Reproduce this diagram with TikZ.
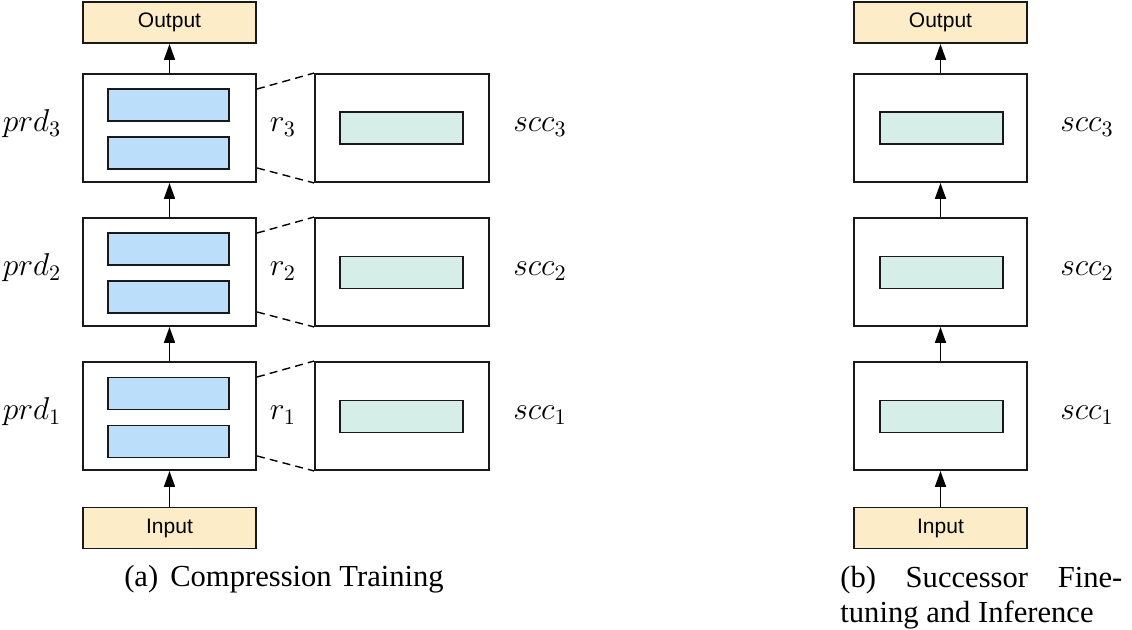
\RequirePackage{fix-cm}
\documentclass[tikz,border=0pt]{standalone}
\usepackage{fontspec}
\setmainfont{Liberation Serif}
\newfontfamily\sansf{Liberation Sans}
\usetikzlibrary{arrows.meta,calc}
\definecolor{peach}{RGB}{253,236,200}
\definecolor{lblue}{RGB}{187,222,251}
\definecolor{lgreen}{RGB}{214,238,232}
\definecolor{edge}{RGB}{25,25,25}
\begin{document}
\begin{tikzpicture}[x=0.5pt, y=-0.5pt,
  box/.style={draw=edge, line width=0.95pt, inner sep=0pt, minimum height=54pt},
  iobox/.style={draw=edge, fill=peach, line width=0.95pt, inner sep=0pt, minimum width=86.5pt, minimum height=20.5pt, font=\sansf\fontsize{10.5}{12}\selectfont},
  blu/.style={draw=edge, fill=lblue, line width=0.85pt, inner sep=0pt, minimum width=60.5pt, minimum height=16pt},
  grn/.style={draw=edge, fill=lgreen, line width=0.85pt, inner sep=0pt, minimum width=61.5pt, minimum height=16pt},
  arr/.style={draw=black, line width=0.85pt, -{Triangle[length=8pt,width=5.5pt]}},
  dsh/.style={draw=black, line width=0.7pt, dash pattern=on 4pt off 2.6pt},
  lab/.style={anchor=base, inner sep=0pt, font=\fontsize{15.8}{18}\selectfont},
  captxt/.style={inner sep=0pt, font=\fontsize{15.3}{17.5}\selectfont}]
\useasboundingbox (0,0) rectangle (1132,630);

% ---------- (a) Compression Training ----------
\node[iobox] (outA) at (169.5,22.5) {Output};
\node[iobox] (inA) at (169.5,528) {Input};

\node[box, minimum width=86.5pt] (p3) at (169.5,128) {};
\node[box, minimum width=86.5pt] (p2) at (169.5,272) {};
\node[box, minimum width=86.5pt] (p1) at (169.5,416) {};

\node[blu] (p3a) at (168.5,105) {};
\node[blu] (p3b) at (168.5,153) {};
\node[blu] (p2a) at (168.5,249) {};
\node[blu] (p2b) at (168.5,297) {};
\node[blu] (p1a) at (168.5,393.5) {};
\node[blu] (p1b) at (168.5,441.5) {};

\node[box, minimum width=87pt] (s3) at (402,128) {};
\node[box, minimum width=87pt] (s2) at (402,272) {};
\node[box, minimum width=87pt] (s1) at (402,416) {};
\node[grn] (s3g) at (401.5,128) {};
\node[grn] (s2g) at (401.5,272.5) {};
\node[grn] (s1g) at (401.5,416.5) {};

\draw[arr] (inA) -- (p1);
\draw[arr] (p1) -- (p2);
\draw[arr] (p2) -- (p3);
\draw[arr] (p3) -- (outA);

\foreach \i in {1,2,3}{
  \draw[dsh] ($(p\i.north east)+(0,16)$) -- (s\i.north west);
  \draw[dsh] ($(p\i.south east)+(0,-15)$) -- (s\i.south west);
}

\node[lab] (lp3) at (32,132) {$prd_3$};
\node[lab] (lp2) at (32,276) {$prd_2$};
\node[lab] (lp1) at (32,420) {$prd_1$};
\node[lab] (lr3) at (283,132) {$r_3$};
\node[lab] (lr2) at (283,276) {$r_2$};
\node[lab] (lr1) at (283,420) {$r_1$};
\node[lab] (ls3) at (540,132) {$scc_3$};
\node[lab] (ls2) at (540,276) {$scc_2$};
\node[lab] (ls1) at (540,420) {$scc_1$};

\node[captxt, anchor=base] (capA) at (284,587) {(a)\hspace{6pt}Compression Training};

% ---------- (b) Successor Fine-tuning and Inference ----------
\node[iobox] (outB) at (940.5,22.5) {Output};
\node[iobox] (inB) at (940.5,528) {Input};

\node[box, minimum width=86.5pt] (q3) at (940.5,128) {};
\node[box, minimum width=86.5pt] (q2) at (940.5,272) {};
\node[box, minimum width=86.5pt] (q1) at (940.5,416) {};
\node[grn] (q3g) at (941.5,128) {};
\node[grn] (q2g) at (941.5,272.5) {};
\node[grn] (q1g) at (941.5,416.5) {};

\draw[arr] (inB) -- (q1);
\draw[arr] (q1) -- (q2);
\draw[arr] (q2) -- (q3);
\draw[arr] (q3) -- (outB);

\node[lab] (lq3) at (1087,132) {$scc_3$};
\node[lab] (lq2) at (1087,276) {$scc_2$};
\node[lab] (lq1) at (1087,420) {$scc_1$};

\node[captxt, anchor=base west] (capB1) at (840,588) {\makebox[141pt][s]{(b) Successor Fine-}};
\node[captxt, anchor=base west] (capB2) at (840,623) {tuning and Inference};
\end{tikzpicture}
\end{document}
